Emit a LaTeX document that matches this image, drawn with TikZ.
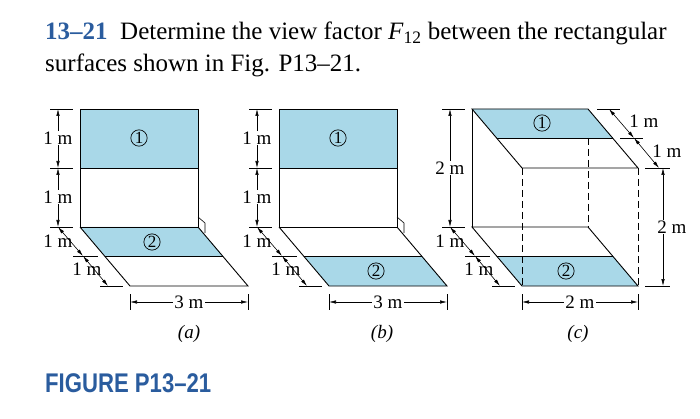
\documentclass[tikz,border=0pt]{standalone}
\usepackage{fontspec}
\setmainfont{Liberation Serif}
\newfontfamily\figfont[FakeStretch=0.82]{Liberation Sans}
\usetikzlibrary{arrows.meta}
\definecolor{lblue}{HTML}{A9D8E8}
\definecolor{titleblue}{HTML}{2A5C9E}
\tikzset{
 surf/.style={draw=black,line width=0.9pt,line join=miter},
 dim/.style={line width=0.6pt,{Latex[length=7pt,width=3.5pt]}-{Latex[length=7pt,width=3.5pt]}},
 ext/.style={line width=0.6pt},
 dlab/.style={font=\fontsize{19}{19}\selectfont,fill=white,inner sep=1pt},
 circ/.style={circle,draw,line width=0.7pt,inner sep=0.8pt,font=\fontsize{17}{17}\selectfont},
 sub/.style={font=\fontsize{19}{19}\selectfont\itshape},
 hid/.style={line width=0.8pt,dash pattern=on 7pt off 4pt}
}
\newcommand\myL[2]{%
 \begin{scope}[shift={(#1,0)}]
 \fill[lblue] (0,109) rectangle (118,168);
 \ifnum#2=0 \fill[lblue] (0,227)--(118,227)--(143,256)--(25,256)--cycle;
 \else \fill[lblue] (25,256)--(143,256)--(168,286)--(50,286)--cycle; \fi
 \draw[surf] (0,109) rectangle (118,227);
 \draw[surf] (0,168)--(118,168);
 \draw[surf] (0,227)--(50,286)--(168,286)--(118,227);
 \draw[surf] (25,256)--(143,256);
 \draw[surf,line width=0.6pt] (118,217)--(125,223)--(125,233);
 \draw[ext] (-30,109)--(-7,109) (-30,168)--(-7,168) (-30,227)--(-7,227);
 \draw[dim] (-22,109)--(-22,168);
 \draw[dim] (-22,168)--(-22,227);
 \node[dlab] at (-22,138) {1 m};
 \node[dlab] at (-22,197) {1 m};
 \draw[ext] (-7,256)--(18,256) (20,286)--(43,286);
 \draw[dim] (-22,227)--(3,256);
 \draw[dim] (3,256)--(28,286);
 \node[dlab,fill=none] at (-22,241) {1 m};
 \node[dlab,fill=none] at (7,269) {1 m};
 \draw[ext] (50,294)--(50,310) (168,294)--(168,310);
 \draw[dim] (50,302)--(168,302);
 \node[dlab] at (109,302) {3 m};
 \node[circ] at (59,138) {1};
 \ifnum#2=0 \node[circ] at (72,242) {2}; \else \node[circ] at (97,271) {2}; \fi
 \end{scope}}
\begin{document}
\begin{tikzpicture}[x=1pt,y=-1pt]
\useasboundingbox (0,0) rectangle (700,419);
\node[anchor=base west,inner sep=0pt,font=\fontsize{25}{25}\selectfont] (t1) at (45,40)
 {{\bfseries\color{titleblue}13–21}\enspace Determine the view factor \textit{F}\textsubscript{12} between the rectangular};
\node[anchor=base west,inner sep=0pt,font=\fontsize{25}{25}\selectfont] (t2) at (45,72)
 {surfaces shown in Fig. P13–21.};
\myL{80}{0}
\myL{279}{1}
% (c)
\fill[lblue] (472,109)--(588,109)--(613,138)--(497,138)--cycle;
\fill[lblue] (497,256)--(613,256)--(638,286)--(522,286)--cycle;
\draw[hid] (588,138)--(588,227) (522,168)--(522,286) (638,168)--(638,286);
\draw[surf] (472,109)--(588,109)--(638,168)--(522,168)--cycle;
\draw[surf] (497,138)--(613,138);
\draw[surf] (472,109)--(472,227);
\draw[surf] (472,227)--(588,227)--(638,286)--(522,286)--cycle;
\draw[surf] (497,256)--(613,256);
\draw[ext] (442,109)--(465,109) (442,227)--(465,227);
\draw[dim] (450,109)--(450,227);
\node[dlab] at (450,168) {2 m};
\draw[ext] (465,256)--(490,256) (492,286)--(515,286);
\draw[dim] (450,227)--(475,256);
\draw[dim] (475,256)--(500,286);
\node[dlab,fill=none] at (450,241) {1 m};
\node[dlab,fill=none] at (479,269) {1 m};
\draw[ext] (597,109)--(620,109) (620,138)--(643,138) (645,168)--(670,168) (645,286)--(670,286);
\draw[dim] (609,109)--(634,138);
\draw[dim] (634,138)--(659,168);
\node[dlab,fill=none] at (644,121) {1 m};
\node[dlab,fill=none] at (667,151) {1 m};
\draw[dim] (663,168)--(663,286);
\node[dlab] at (672,227) {2 m};
\draw[ext] (522,294)--(522,310) (638,294)--(638,310);
\draw[dim] (522,302)--(638,302);
\node[dlab] at (580,302) {2 m};
\node[circ] at (542,123) {1};
\node[circ] at (566,271) {2};
\node[sub] (la) at (189,334) {(a)};
\node[sub] (lb) at (382,334) {(b)};
\node[sub] (lc) at (578,334) {(c)};
\node[anchor=base west,inner sep=0pt,font=\figfont\bfseries\fontsize{27}{27}\selectfont,text=titleblue] (fg) at (45,392) {FIGURE P13–21};
\end{tikzpicture}
\end{document}
